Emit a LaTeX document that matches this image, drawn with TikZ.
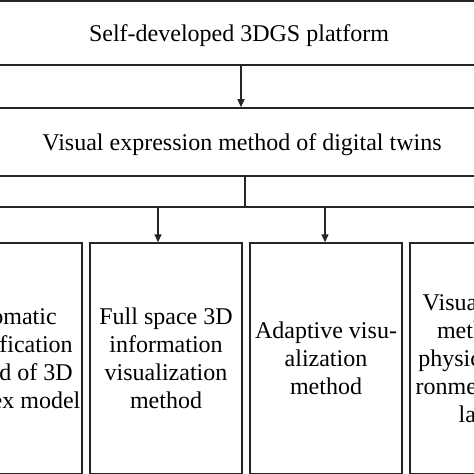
\documentclass[tikz,border=0pt]{standalone}
\usepackage{fontspec}
\setmainfont{Liberation Serif}
\usetikzlibrary{arrows.meta}

\begin{document}
\begin{tikzpicture}[x=1pt, y=-1pt,
  every node/.style={font=\fontsize{24}{28}\selectfont, text depth=0pt},
  bar/.style={draw=black!85, line width=1.6pt, minimum width=560pt, inner sep=0pt},
  method/.style={draw=black!85, line width=1.4pt, minimum width=152pt, minimum height=231pt, align=center, inner sep=0pt},
  link/.style={draw=black!85, line width=1.4pt, -{Triangle[length=8pt,width=7pt]}}]
  \useasboundingbox (0,0) rectangle (474,474);
  \clip (0,0) rectangle (474,474);
  % Upper levels
  \node[bar, minimum height=64pt] (platform) at (239,33) {Self-developed 3DGS platform};
  \node[bar, minimum height=68pt] (visual) at (242,142) {Visual expression method of digital twins};
  \draw[link] ([xshift=2pt]platform.south) -- ([xshift=2pt]platform.south |- visual.north);
  % Branch line
  \coordinate (bus) at (245,207);
  \coordinate (busL) at (-30,207);
  \coordinate (busR) at (504,207);
  \draw[draw=black!85, line width=1.4pt] (visual.south -| bus) -- (bus);
  \draw[draw=black!85, line width=1.4pt] (busL) -- (busR);
  % Methods
  \node[method] (m1) at (6,358.5) {Automatic\\simplification\\method of 3D\\complex model};
  \node[method] (m2) at (166,358.5) {Full space 3D\\information\\visualization\\method};
  \node[method] (m3) at (326,358.5) {Adaptive visu-\\alization\\method};
  \node[method] (m4) at (486,358.5) {Visualization\\method of\\physical envi-\\ronment simu-\\lation};
  \coordinate (b2) at (158,207);
  \coordinate (b3) at (325,207);
  \draw[link] (b2) -- (b2 |- m2.north);
  \draw[link] (b3) -- (b3 |- m3.north);
\end{tikzpicture}
\end{document}
